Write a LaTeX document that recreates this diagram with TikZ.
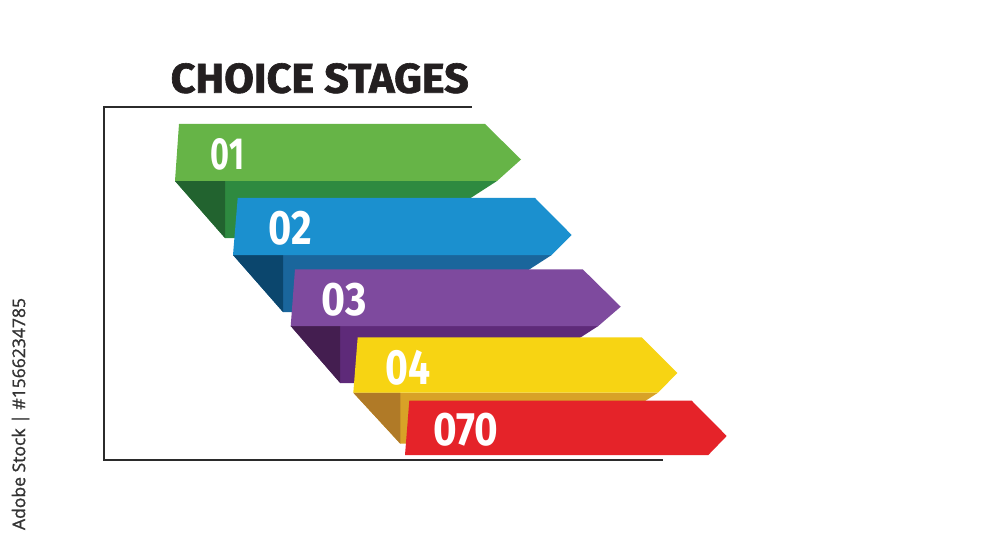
\documentclass[tikz,border=0pt]{standalone}
\usepackage{fontspec}
\setmainfont{Fira Sans}
\newfontfamily\sidefont[FakeBold=1.2]{Open Sans}
\newfontfamily\titlefont[FakeBold=1.5]{Fira Sans Bold}
\usetikzlibrary{calc}
\definecolor{titlecol}{HTML}{231F20}
\definecolor{framecol}{HTML}{2B2B2B}
\definecolor{sidecol}{HTML}{333333}
\definecolor{gfront}{HTML}{66B447}
\definecolor{gband}{HTML}{2E8A40}
\definecolor{gdark}{HTML}{22632F}
\definecolor{bfront}{HTML}{1B90CF}
\definecolor{bband}{HTML}{1A669C}
\definecolor{bdark}{HTML}{0B466D}
\definecolor{pfront}{HTML}{7E4A9E}
\definecolor{pband}{HTML}{5E2A79}
\definecolor{pdark}{HTML}{441E50}
\definecolor{yfront}{HTML}{F7D413}
\definecolor{yband}{HTML}{D8A227}
\definecolor{ydark}{HTML}{B07A27}
\definecolor{rfront}{HTML}{E52329}
\newcommand{\stagefill}[6]{%
  % #1 front, #2 band, #3 dark, #4 prefix, #5 dx, #6 dy
  \fill[#2] (#4E) -- (#4D) -- ($(#4D)+(-1.55*#6,#6)$) -- ($(#4E)+(#5,#6)$) -- cycle;
  \fill[#3] (#4E) -- ($(#4E)+(#5,0)$) -- ($(#4E)+(#5,#6)$) -- cycle;
  \fill[#1] (#4A) -- (#4B) -- (#4C) -- (#4D) -- (#4E) -- cycle;
}
\newcommand{\numtxt}[3]{\resizebox{#1pt}{#2pt}{\bfseries #3}}
\begin{document}
\begin{tikzpicture}[x=1pt,y=-1pt,
  framestyle/.style={draw=framecol,line width=1.8pt},
  numlabel/.style={anchor=base west,inner sep=0pt,text=white},
  titlelabel/.style={anchor=base west,inner sep=0pt,text=titlecol},
  sidelabel/.style={rotate=90,inner sep=0pt,text=sidecol}]
\useasboundingbox (0,0) rectangle (1000,545);
\fill[white] (0,0) rectangle (1000,545);
% frame
\coordinate (ft) at (471.7,107);
\coordinate (fc) at (104,107);
\coordinate (fb) at (104,460);
\coordinate (fe) at (663,460);
\draw[framestyle] (ft) -- (fc) -- (fb) -- (fe);
% title
\node[titlelabel] (title) at (170.5,92.7) {\resizebox{298pt}{29.5pt}{\titlefont CHOICE STAGES}};
% side text
\node[sidelabel] (side) at (20.6,414) {\resizebox{232pt}{!}{\sidefont Adobe Stock | \#1566234785}};
% green
\coordinate (gA) at (179,124); \coordinate (gB) at (485,124); \coordinate (gC) at (521,159.5);
\coordinate (gD) at (497,181); \coordinate (gE) at (175,181);
\stagefill{gfront}{gband}{gdark}{g}{50}{57}
% blue
\coordinate (bA) at (237.7,198); \coordinate (bB) at (535,198); \coordinate (bC) at (571.7,235);
\coordinate (bD) at (551.7,255); \coordinate (bE) at (233,255);
\stagefill{bfront}{bband}{bdark}{b}{50}{57}
% purple
\coordinate (pA) at (295,269.3); \coordinate (pB) at (582.7,269.3); \coordinate (pC) at (620.7,306.7);
\coordinate (pD) at (598.3,326); \coordinate (pE) at (290.7,326);
\stagefill{pfront}{pband}{pdark}{p}{49.5}{57}
% yellow
\coordinate (yA) at (357.7,337.3); \coordinate (yB) at (641.7,337.3); \coordinate (yC) at (677.3,373);
\coordinate (yD) at (658,392.7); \coordinate (yE) at (353.3,392.7);
\stagefill{yfront}{yband}{ydark}{y}{47}{51}
% red
\coordinate (rA) at (409.3,400.7); \coordinate (rB) at (691.7,400.7); \coordinate (rC) at (726.7,436);
\coordinate (rD) at (708.3,455); \coordinate (rE) at (405,455);
\fill[rfront] (rA) -- (rB) -- (rC) -- (rD) -- (rE) -- cycle;
% numbers
\node[numlabel] (n1) at (210.7,169.3) {\numtxt{33.3}{31}{01}};
\node[numlabel] (n2) at (268.3,244) {\numtxt{43.4}{33.3}{02}};
\node[numlabel] (n3) at (321.7,315.7) {\numtxt{45}{32.4}{03}};
\node[numlabel] (n4) at (385.7,384.3) {\numtxt{45}{34.3}{04}};
\node[numlabel] (n5) at (433.3,445.7) {\numtxt{65}{32.4}{070}};
\end{tikzpicture}
\end{document}
